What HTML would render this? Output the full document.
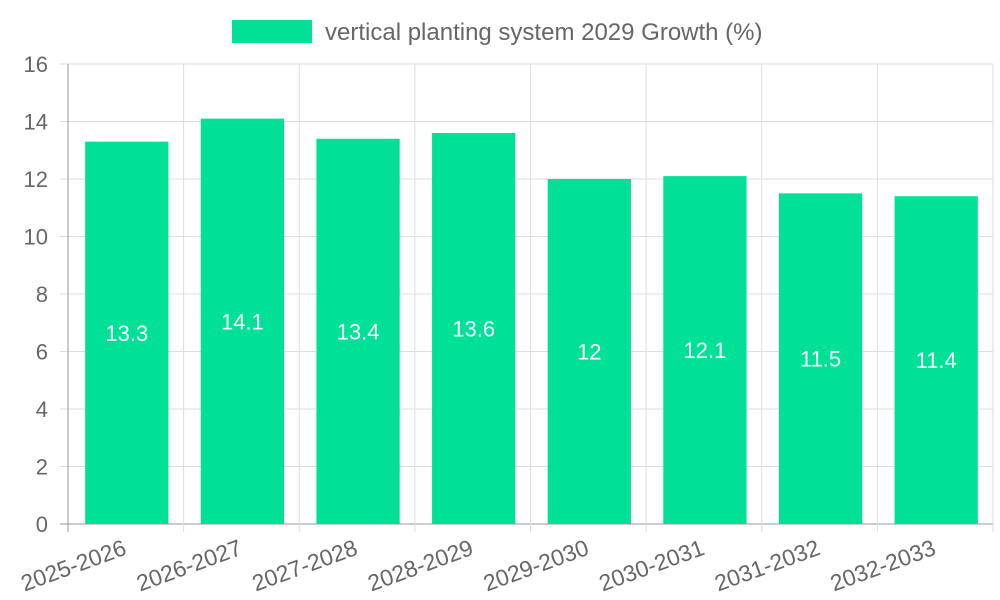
<!DOCTYPE html>
<html><head><meta charset="utf-8"><style>
body{margin:0;background:#fff;}
svg{display:block;font-family:"Liberation Sans",sans-serif;}
</style></head><body>
<svg id="chart" width="1000" height="600"></svg>
<script>
const categories=["2025-2026","2026-2027","2027-2028","2028-2029","2029-2030","2030-2031","2031-2032","2032-2033"];
const values=[13.3,14.1,13.4,13.6,12,12.1,11.5,11.4];
const yTicks=[0,2,4,6,8,10,12,14,16];
const seriesName="vertical planting system 2029 Growth (%)";
const NS="http://www.w3.org/2000/svg";
const svg=document.getElementById('chart');
const L=68,R=993,T=64,B=524,yMax=16;
const y=v=>B-(B-T)*v/yMax;
const bw=(R-L)/categories.length;
const x=i=>L+bw*i;
function mk(t,a,parent){const e=document.createElementNS(NS,t);for(const k in a)e.setAttribute(k,a[k]);(parent||svg).appendChild(e);return e;}
const lg=mk('g',{});


mk('rect',{x:232,y:20,width:80,height:23,fill:'#00E096'},lg);
const lt=mk('text',{x:325,y:40,'font-size':24,fill:'#666'},lg);lt.textContent=seriesName;
yTicks.forEach(v=>{
  const g=mk('line',{x1:L-8,x2:R,y1:y(v),y2:y(v),stroke:v===0?'#999':'#ddd','stroke-width':1});
  
  
  const t=mk('text',{x:L-20,y:y(v)+8,'font-size':22,fill:'#666','text-anchor':'end'});
  
  
  t.textContent=v;
});
for(let i=0;i<=categories.length;i++){
  const g=mk('line',{x1:x(i),x2:x(i),y1:T,y2:B+8,stroke:i===0?'#999':'#ddd','stroke-width':1});
  
  
}
categories.forEach((c,i)=>{
  const w=bw*0.72, bx=x(i)+(bw-w)/2+1;
  const r=mk('rect',{x:bx,y:y(values[i]),width:w,height:B-y(values[i]),fill:'#00E096'});
  
  
  const vt=mk('text',{x:bx+w/2,y:(y(values[i])+B)/2+8,'font-size':22,fill:'#fff','text-anchor':'middle'});
  
  
  vt.textContent=values[i];
  const cx=x(i)+bw/2+2;
  const xt=mk('text',{x:cx,y:B+30,'font-size':23,fill:'#666','text-anchor':'end',transform:`rotate(-20 ${cx} ${B+30})`});
  
  
  xt.textContent=c;
});
</script>
</body></html>
